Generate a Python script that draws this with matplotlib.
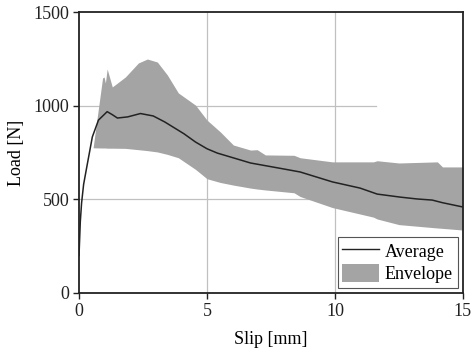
import matplotlib
matplotlib.use("Agg")
import matplotlib.pyplot as plt
from matplotlib.patches import Patch
from matplotlib.lines import Line2D

plt.rcParams['font.family'] = ['Liberation Serif', 'DejaVu Serif']

# Average curve
avg_x = [0.0, 0.05, 0.1, 0.18, 0.3, 0.52, 0.76, 1.1, 1.3, 1.5, 1.9, 2.4, 2.9, 3.35, 4.1, 4.55,
         5.0, 5.4, 6.7, 8.0, 8.64, 9.9, 10.98, 11.65, 12.54, 13.2, 13.8, 14.2, 15.0]
avg_y = [200, 380, 480, 580, 670, 833, 923, 968, 952, 934, 940, 958, 945, 913, 850, 806,
         770, 747, 694, 662, 646, 593, 560, 528, 512, 502, 496, 482, 459]

# Envelope
env_x = [0.55, 0.92, 0.98, 1.03, 1.1, 1.3, 1.81, 2.32, 2.67, 3.06, 3.45, 3.88, 4.55, 5.0,
         5.52, 6.03, 6.7, 6.96, 7.28, 8.4, 8.64, 9.9, 11.5, 11.65, 12.5, 14.0, 14.2, 15.0]
env_upper = [775, 1148, 1153, 1121, 1196, 1100, 1153, 1228, 1249, 1233, 1164, 1068, 1003, 923,
             860, 790, 763, 765, 737, 735, 722, 700, 700, 706, 694, 700, 673, 673]
env_lower = [775, 774, 774, 774, 773, 773, 772, 765, 760, 753, 740, 722, 660, 610,
             590, 576, 560, 555, 550, 535, 515, 456, 405, 395, 365, 347, 345, 336]

fig = plt.figure(figsize=(4.74, 3.53), dpi=100)
ax = fig.add_axes([0.1667, 0.170, 0.810, 0.796])

ax.fill_between(env_x, env_lower, env_upper, color='#a4a4a4', linewidth=0, zorder=2)
ax.plot(avg_x, avg_y, color='#222222', linewidth=1.1, zorder=3)

ax.set_xlim(0, 15)
ax.set_ylim(0, 1500)
ax.set_xticks([0, 5, 10, 15])
ax.set_yticks([0, 500, 1000, 1500])

# grid
for gx in [5, 10]:
    ax.axvline(gx, color='#c0c0c0', linewidth=0.9, zorder=1)
ax.axhline(500, color='#c0c0c0', linewidth=0.9, zorder=1)
ax.axhline(1000, xmin=0, xmax=11.6 / 15, color='#c0c0c0', linewidth=0.9, zorder=1)

for s in ax.spines.values():
    s.set_linewidth(1.3)
    s.set_color('#222222')
ax.tick_params(direction='out', length=4, width=1.0, labelsize=13, colors='#222222', pad=3)

ax.set_xlabel('Slip [mm]', fontsize=13, labelpad=8)
ax.set_ylabel('Load [N]', fontsize=13, labelpad=6)

handles = [Line2D([0], [0], color='#222222', linewidth=1.0),
           Patch(facecolor='#a4a4a4', edgecolor='none')]
leg = ax.legend(handles, ['Average', 'Envelope'], loc='lower right', fontsize=13,
                fancybox=False, framealpha=1, edgecolor='#555555', borderpad=0.25,
                handlelength=2.0, handleheight=1.2, handletextpad=0.35, labelspacing=0.15,
                borderaxespad=0.3)
leg.get_frame().set_linewidth(0.8)

fig.savefig('out.png', dpi=100)
